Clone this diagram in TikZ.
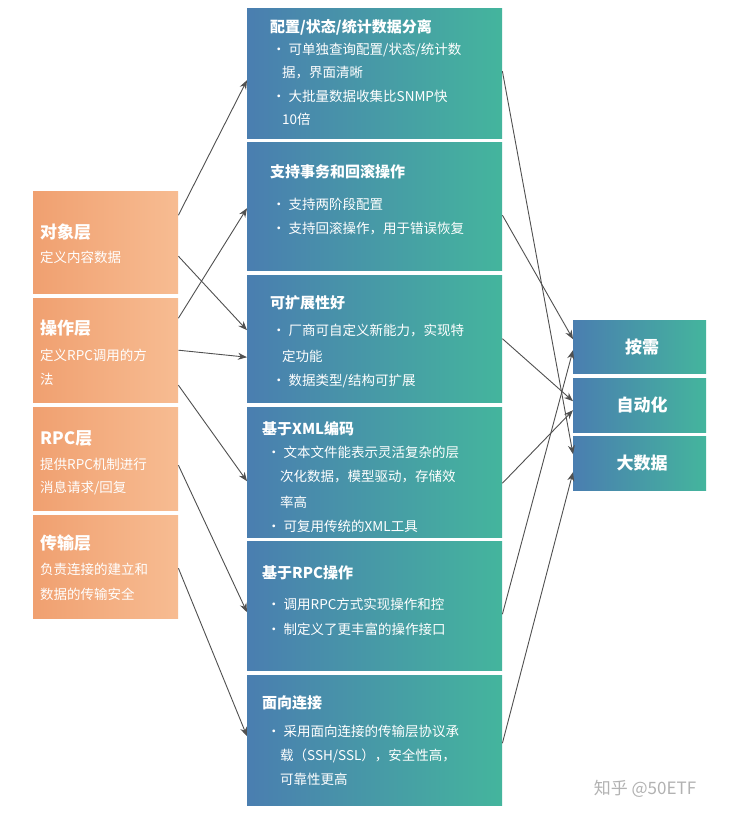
\documentclass[tikz,border=0pt]{standalone}
\usepackage{fontspec}
\setmainfont{Noto Sans CJK SC}
\usetikzlibrary{arrows.meta}
\definecolor{orL}{HTML}{F0A070}
\definecolor{orR}{HTML}{F7BC92}
\definecolor{blL}{HTML}{4A7EB0}
\definecolor{blR}{HTML}{44B59D}
\definecolor{arr}{HTML}{505050}
\begin{document}
\begin{tikzpicture}[x=1pt,y=-1pt,
  obox/.style={left color=orL,right color=orR,draw=none,inner sep=0,anchor=north west},
  bbox/.style={left color=blL,right color=blR,draw=none,inner sep=0,anchor=north west},
  ttl/.style={anchor=west,text=white,font=\fontsize{15}{15}\selectfont\bfseries,inner sep=0},
  ltl/.style={anchor=west,text=white,font=\fontsize{17}{17}\selectfont\bfseries,inner sep=0},
  txt/.style={anchor=west,text=white,font=\fontsize{13.5}{13.5}\selectfont,inner sep=0},
  con/.style={draw=arr,line width=0.9pt,-{Stealth[length=9pt,width=7pt]}}]
\useasboundingbox (0,0) rectangle (730,819);
\fill[white] (0,0) rectangle (730,819);
% left boxes
\node[obox,minimum width=145pt,minimum height=102pt] (l1) at (33,191) {};
\node[obox,minimum width=145pt,minimum height=104pt] (l2) at (33,298) {};
\node[obox,minimum width=145pt,minimum height=103pt] (l3) at (33,407) {};
\node[obox,minimum width=145pt,minimum height=103pt] (l4) at (33,515) {};
\node[ltl] (l1t) at (40,232) {对象层};
\node[txt] (l1a) at (40,257) {定义内容数据};
\node[ltl] (l2t) at (40,328) {操作层};
\node[txt] (l2a) at (40,355) {定义RPC调用的方};
\node[txt] (l2b) at (40,379) {法};
\node[ltl] (l3t) at (40,438) {RPC层};
\node[txt] (l3a) at (40,464) {提供RPC机制进行};
\node[txt] (l3b) at (40,488) {消息请求/回复};
\node[ltl] (l4t) at (40,543) {传输层};
\node[txt] (l4a) at (40,569) {负责连接的建立和};
\node[txt] (l4b) at (40,594) {数据的传输安全};
% middle boxes
\node[bbox,minimum width=255pt,minimum height=130pt] (m1) at (247,8) {};
\node[bbox,minimum width=255pt,minimum height=128pt] (m2) at (247,142) {};
\node[bbox,minimum width=255pt,minimum height=127pt] (m3) at (247,275) {};
\node[bbox,minimum width=255pt,minimum height=130pt] (m4) at (247,407) {};
\node[bbox,minimum width=255pt,minimum height=129pt] (m5) at (247,541) {};
\node[bbox,minimum width=255pt,minimum height=130pt] (m6) at (247,675) {};
\node[ttl] (m1t) at (270,27) {配置/状态/统计数据分离};
\node[txt] (m1a) at (272,50) {• 可单独查询配置/状态/统计数};
\node[txt] (m1b) at (282,73) {据，界面清晰};
\node[txt] (m1c) at (272,96) {• 大批量数据收集比SNMP快};
\node[txt] (m1d) at (282,119) {10倍};
\node[ttl] (m2t) at (270,172) {支持事务和回滚操作};
\node[txt] (m2a) at (272,204) {• 支持两阶段配置};
\node[txt] (m2b) at (272,229) {• 支持回滚操作，用于错误恢复};
\node[ttl] (m3t) at (270,303) {可扩展性好};
\node[txt] (m3a) at (272,331) {• 厂商可自定义新能力，实现特};
\node[txt] (m3b) at (282,356) {定功能};
\node[txt] (m3c) at (272,381) {• 数据类型/结构可扩展};
\node[ttl] (m4t) at (262,429) {基于XML编码};
\node[txt] (m4a) at (267,452) {• 文本文件能表示灵活复杂的层};
\node[txt] (m4b) at (280,477) {次化数据，模型驱动，存储效};
\node[txt] (m4c) at (280,502) {率高};
\node[txt] (m4d) at (267,526) {• 可复用传统的XML工具};
\node[ttl] (m5t) at (262,573) {基于RPC操作};
\node[txt] (m5a) at (267,604) {• 调用RPC方式实现操作和控};
\node[txt] (m5b) at (267,629) {• 制定义了更丰富的操作接口};
\node[ttl] (m6t) at (262,703) {面向连接};
\node[txt] (m6a) at (267,731) {• 采用面向连接的传输层协议承};
\node[txt] (m6b) at (280,756) {载（SSH/SSL），安全性高，};
\node[txt] (m6c) at (280,779) {可靠性更高};
% right boxes
\node[bbox,minimum width=133pt,minimum height=53pt] (r1) at (573,320) {};
\node[bbox,minimum width=133pt,minimum height=54pt] (r2) at (573,378) {};
\node[bbox,minimum width=133pt,minimum height=54pt] (r3) at (573,436) {};
\node[ltl,anchor=center] (r1t) at (642,347) {按需};
\node[ltl,anchor=center] (r2t) at (642,405) {自动化};
\node[ltl,anchor=center] (r3t) at (642,463) {大数据};
% watermark
\node[anchor=center,text=gray!60,font=\fontsize{17}{17}\selectfont,inner sep=0] (wm) at (645,789) {知乎 @50ETF};
% connectors left
\draw[con] ([yshift=27pt]l1.east) -- ([yshift=-7pt]m1.west);
\draw[con] ([yshift=-14pt]l1.east) -- ([yshift=8.5pt]m3.west);
\draw[con] ([yshift=32pt]l2.east) -- ([yshift=-2pt]m2.west);
\draw[con] (l2.east) -- ([yshift=-18.5pt]m3.west);
\draw[con] ([yshift=-35pt]l2.east) -- ([yshift=-9pt]m4.west);
\draw[con] ([yshift=-6.5pt]l3.east) -- ([yshift=-6.5pt]m5.west);
\draw[con] ([yshift=-1.5pt]l4.east) -- ([yshift=4pt]m6.west);
% connectors right
\draw[con] ([yshift=2pt]m1.east) -- ([yshift=9pt]r3.west);
\draw[con] ([yshift=-9pt]m2.east) -- ([yshift=7.5pt]r1.west);
\draw[con] (m3.east) -- ([yshift=4pt]r2.west);
\draw[con] ([yshift=-11pt]m4.east) -- ([yshift=-5pt]r2.west);
\draw[con] ([yshift=-8.5pt]m5.east) -- ([yshift=-3.5pt]r1.west);
\draw[con] ([yshift=-3pt]m6.east) -- ([yshift=-9pt]r3.west);
\end{tikzpicture}
\end{document}
